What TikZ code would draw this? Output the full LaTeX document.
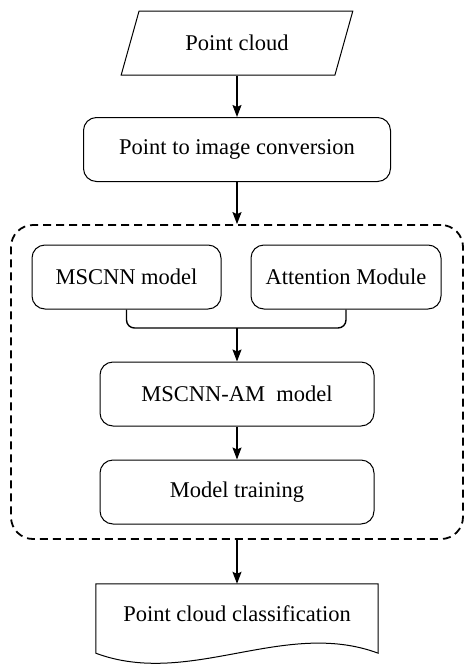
\documentclass[tikz,border=0pt]{standalone}
\usepackage{fontspec}
\setmainfont{Liberation Serif}
\usetikzlibrary{shapes.geometric, arrows.meta}

\tikzset{
  label font/.style={font=\fontsize{22.5}{27}\selectfont},
  databox/.style={draw, label font, line width=1pt, shape=trapezium,
    trapezium left angle=66, trapezium right angle=114,
    trapezium stretches=true, minimum width=232pt, minimum height=64pt},
  stepbox/.style={draw, label font, line width=1pt, rounded corners=13pt,
    minimum height=64pt},
  groupbox/.style={draw, dashed, dash pattern=on 8pt off 5pt, line width=1.8pt,
    rounded corners=22pt, minimum width=452pt, minimum height=314pt},
  docbox/.style={label font, minimum width=282pt, minimum height=69pt, text depth=9pt},
  flow/.style={->, line width=1.4pt}
}

\begin{document}
\begin{tikzpicture}[x=1pt, y=-1pt, >={Stealth[length=12pt, width=9pt, inset=2pt]}]
  \useasboundingbox (0,0) rectangle (474,672);

  % Input and conversion
  \node[databox] (cloud) at (237,43) {Point cloud};
  \node[stepbox, minimum width=307pt] (conv) at (237,149.5) {Point to image conversion};

  % Dashed group with the network
  \node[groupbox] (frame) at (237,382) {};
  \node[stepbox, minimum width=189pt] (mscnn) at (126.5,277) {MSCNN model};
  \node[stepbox, minimum width=190pt] (attn) at (346,277) {Attention Module};
  \node[stepbox, minimum width=274pt] (am) at (237,394) {MSCNN-AM~ model};
  \node[stepbox, minimum width=274pt] (train) at (237,492) {Model training};
  \coordinate (join) at (237,328);

  % Output document
  \node[docbox] (out) at (237,618.5) {Point cloud classification};
  \draw[line width=1pt] (out.north west) -- (out.south west)
    .. controls +(94,35) and +(-94,-35) .. (out.south east)
    -- (out.north east) -- cycle;

  % Connectors
  \draw[flow] (cloud) -- (conv);
  \draw[flow] (conv) -- (frame);
  \draw[line width=1.4pt, rounded corners=8pt] (mscnn.south) |- (join) -| (attn.south);
  \draw[flow] (join) -- (am);
  \draw[flow] (am) -- (train);
  \draw[flow] (frame) -- (out);
\end{tikzpicture}
\end{document}
